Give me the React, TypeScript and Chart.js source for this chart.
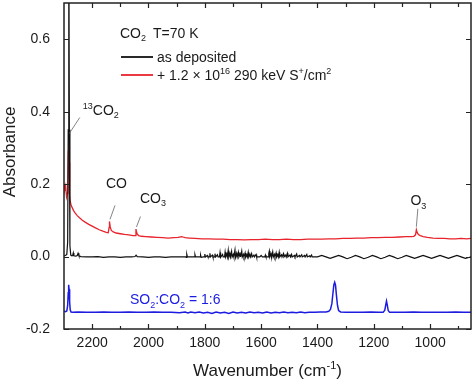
import { useEffect, useRef } from 'react';
import { Chart, registerables } from 'chart.js';

Chart.register(...registerables);

const FONT = '"Liberation Sans", Arial, Helvetica, sans-serif';
const TEXT = '#1a1a1a';
const BLACK = '#111111';
const RED = '#e8232b';
const BLUE = '#1c1ce0';

// Axis ranges (wavenumber axis runs high → low)
const X_MIN = 855;
const X_MAX = 2300;
const Y_MIN = -0.2;
const Y_MAX = 0.7;

const xMajorTicks = [2200, 2000, 1800, 1600, 1400, 1200, 1000];
const xMinorTicks = [2100, 1900, 1700, 1500, 1300, 1100, 900];
const yMajorTicks = [-0.2, 0.0, 0.2, 0.4, 0.6];

// [wavenumber (cm-1), absorbance]
const asDeposited: [number, number][] = [
  [2300, 0.002], [2295, 0.003], [2290, 0.006], [2287, 0.04], [2285, 0.35], [2283, 0.95],
  [2281, 0.35], [2279, 0.03], [2276, 0.004], [2272, 0.002], [2269, 0.003], [2267, 0.01],
  [2265, 0.002], [2258, 0.001], [2253, 0.003], [2250, 0.009], [2247, 0.002], [2240, 0.0],
  [2220, -0.001], [2200, -0.001], [2180, 0.0], [2160, -0.002], [2140, -0.001], [2120, -0.001],
  [2100, -0.002], [2080, -0.001], [2060, -0.001], [2048, 0.0], [2044, 0.004], [2040, 0.0],
  [2020, -0.001], [2000, -0.002], [1980, -0.001], [1960, -0.001], [1940, -0.002], [1920, -0.001],
  [1900, -0.001], [1880, -0.001],
  [1868, -0.001], [1866, -0.002], [1864, 0.006], [1862, -0.001], [1850, -0.001], [1837, -0.001],
  [1835, 0.005], [1833, -0.001], [1820, -0.001], [1817, -0.001], [1815, 0.004], [1813, -0.002],
  [1805, -0.001], [1802, -0.001], [1800, 0.007], [1798, -0.001], [1791, 0.003], [1789, -0.001],
  [1784, -0.001], [1782, 0.009], [1780, -0.001], [1773, 0.004], [1771, -0.002], [1766, -0.001],
  [1764, 0.008], [1762, -0.001], [1755, 0.005], [1753, -0.001], [1748, -0.001], [1746, 0.011],
  [1744, -0.002], [1737, 0.006], [1735, -0.001], [1730, -0.001], [1728, 0.012], [1726, -0.001],
  [1722, 0.007], [1720, -0.001], [1717, 0.017], [1715, -0.002], [1711, 0.008], [1709, -0.001],
  [1705, 0.014], [1703, -0.001], [1699, 0.006], [1697, -0.001], [1693, 0.018], [1691, -0.002],
  [1687, 0.009], [1685, -0.001], [1681, 0.012], [1679, -0.001], [1675, 0.007], [1673, -0.001],
  [1669, 0.015], [1667, -0.001], [1663, 0.006], [1661, -0.001], [1657, 0.01], [1655, -0.002],
  [1651, 0.005], [1649, -0.001], [1646, 0.012], [1644, -0.001], [1640, 0.006], [1638, -0.001],
  [1634, 0.008], [1632, -0.001], [1626, 0.004], [1624, -0.001], [1618, 0.006], [1616, -0.001],
  [1605, -0.001], [1600, 0.003], [1596, -0.001], [1587, -0.001], [1585, 0.004], [1583, -0.001],
  [1575, -0.001], [1573, 0.008], [1571, 0.015], [1569, -0.001], [1565, 0.007], [1563, -0.001],
  [1559, 0.013], [1557, -0.001], [1553, 0.006], [1551, -0.001], [1547, 0.01], [1545, -0.001],
  [1541, 0.005], [1539, -0.001], [1536, 0.012], [1534, -0.001], [1528, 0.005], [1526, -0.001],
  [1521, 0.008], [1519, -0.001], [1513, 0.004], [1511, -0.001], [1507, 0.009], [1505, -0.001],
  [1498, 0.004], [1496, -0.001], [1492, 0.006], [1490, -0.001], [1482, 0.003], [1480, -0.001],
  [1474, 0.007], [1472, -0.001], [1464, 0.003], [1462, -0.001], [1456, 0.005], [1454, -0.001],
  [1446, 0.003], [1444, -0.001], [1438, 0.006], [1436, -0.001], [1428, 0.002], [1426, -0.001],
  [1421, 0.004], [1419, -0.001], [1410, -0.001],
  [1400, -0.001], [1385, 0.003], [1370, -0.001], [1355, -0.005], [1340, -0.001], [1325, 0.003],
  [1310, -0.001], [1295, -0.006], [1280, -0.002], [1265, 0.003], [1250, -0.001], [1235, -0.006],
  [1220, -0.002], [1205, 0.003], [1190, -0.001], [1175, -0.006], [1160, -0.002], [1145, 0.003],
  [1130, -0.001], [1115, -0.006], [1100, -0.002], [1085, 0.003], [1070, -0.001], [1055, -0.005],
  [1040, -0.001], [1025, 0.003], [1010, -0.001], [995, -0.005], [980, -0.001], [965, 0.003],
  [950, -0.001], [935, -0.005], [920, -0.001], [905, 0.003], [890, -0.001], [875, -0.005],
  [860, -0.002], [855, 0.0],
];

const irradiated: [number, number][] = [
  [2300, 0.2], [2297, 0.185], [2294, 0.195], [2291, 0.165], [2288, 0.175], [2286, 0.21],
  [2284.5, 0.29], [2283, 0.337], [2281.5, 0.26], [2280, 0.17], [2278, 0.152], [2275, 0.143],
  [2271, 0.135], [2266, 0.127], [2260, 0.12], [2253, 0.113], [2245, 0.107], [2235, 0.1],
  [2225, 0.095], [2212, 0.089], [2200, 0.084], [2188, 0.079], [2175, 0.074], [2162, 0.07],
  [2150, 0.067], [2143, 0.066], [2140, 0.08], [2138.5, 0.097], [2136, 0.082], [2132, 0.072],
  [2125, 0.068], [2115, 0.065], [2100, 0.063], [2085, 0.061], [2070, 0.06], [2055, 0.058],
  [2047, 0.058], [2044.5, 0.076], [2043, 0.07], [2040, 0.062], [2035, 0.058], [2025, 0.056],
  [2010, 0.055], [1990, 0.054], [1970, 0.053], [1950, 0.052], [1930, 0.051], [1910, 0.052],
  [1895, 0.053], [1882, 0.055], [1878, 0.054], [1870, 0.052], [1855, 0.051], [1835, 0.05],
  [1810, 0.049], [1785, 0.049], [1760, 0.048], [1735, 0.048], [1710, 0.047], [1685, 0.047],
  [1660, 0.046], [1635, 0.047], [1610, 0.047], [1585, 0.048], [1560, 0.047], [1535, 0.047],
  [1510, 0.048], [1485, 0.047], [1460, 0.047], [1435, 0.048], [1410, 0.048], [1385, 0.048],
  [1360, 0.049], [1335, 0.049], [1310, 0.05], [1285, 0.05], [1260, 0.051], [1235, 0.051],
  [1210, 0.052], [1185, 0.052], [1160, 0.053], [1135, 0.053], [1110, 0.054], [1085, 0.055],
  [1068, 0.055], [1058, 0.056], [1052, 0.06], [1049, 0.074], [1046, 0.066], [1042, 0.061],
  [1035, 0.058], [1025, 0.055], [1010, 0.053], [990, 0.051], [970, 0.05], [950, 0.05],
  [930, 0.049], [910, 0.049], [890, 0.05], [870, 0.049], [855, 0.05],
];

const so2Mixture: [number, number][] = [
  [2300, -0.151], [2295, -0.152], [2290, -0.15], [2287, -0.135], [2285, -0.1], [2283.5, -0.078],
  [2282, -0.09], [2280, -0.125], [2278, -0.147], [2275, -0.153], [2268, -0.154], [2250, -0.153],
  [2220, -0.154], [2190, -0.154], [2160, -0.153], [2130, -0.154], [2100, -0.154], [2070, -0.153],
  [2040, -0.154], [2010, -0.154], [1980, -0.153], [1950, -0.154], [1920, -0.154], [1890, -0.155],
  [1870, -0.153], [1860, -0.156], [1850, -0.153], [1835, -0.155], [1820, -0.153], [1805, -0.156],
  [1790, -0.154], [1775, -0.157], [1760, -0.153], [1745, -0.156], [1730, -0.154], [1715, -0.157],
  [1700, -0.153], [1685, -0.156], [1670, -0.154], [1655, -0.156], [1640, -0.153], [1625, -0.155],
  [1610, -0.154], [1595, -0.156], [1580, -0.153], [1565, -0.156], [1550, -0.154], [1535, -0.155],
  [1520, -0.153], [1505, -0.155], [1490, -0.154], [1475, -0.155], [1460, -0.153], [1445, -0.155],
  [1430, -0.154], [1410, -0.154], [1390, -0.153], [1370, -0.153], [1360, -0.151], [1354, -0.146],
  [1349, -0.13], [1345, -0.1], [1342, -0.078], [1339, -0.071], [1336, -0.079], [1333, -0.105],
  [1329, -0.135], [1325, -0.149], [1318, -0.153], [1300, -0.154], [1270, -0.154], [1240, -0.154],
  [1210, -0.153], [1185, -0.154], [1167, -0.154], [1161, -0.148], [1158, -0.135], [1155, -0.123],
  [1152, -0.135], [1149, -0.149], [1144, -0.154], [1120, -0.154], [1090, -0.154], [1060, -0.153],
  [1030, -0.154], [1000, -0.154], [970, -0.154], [940, -0.154], [910, -0.153], [880, -0.154],
  [855, -0.154],
];

type Seg = { t: string; k?: 'sub' | 'sup' };

// Peak labels: anchored at a peak (wavenumber, absorbance), leader line and label offsets in px
type PeakLabel = {
  wn: number; abs: number;
  from: [number, number]; to: [number, number];
  text: Seg[]; at: [number, number]; align: 'left' | 'center';
};

const peakLabels: PeakLabel[] = [
  { wn: 2283, abs: 0.337, from: [0.5, -1], to: [11, -17], text: [{ t: '13', k: 'sup' }, { t: 'CO' }, { t: '2', k: 'sub' }], at: [14, -25], align: 'left' },
  { wn: 2138.5, abs: 0.097, from: [0.5, -2], to: [5.5, -16], text: [{ t: 'CO' }], at: [7, -38], align: 'center' },
  { wn: 2044.5, abs: 0.076, from: [0.5, -2], to: [4.5, -12.5], text: [{ t: 'CO' }, { t: '3', k: 'sub' }], at: [4, -31], align: 'left' },
  { wn: 1049, abs: 0.074, from: [0, -3], to: [1.5, -21], text: [{ t: 'O' }, { t: '3', k: 'sub' }], at: [2, -29.5], align: 'center' },
];

const legendHeader: Seg[] = [{ t: 'CO' }, { t: '2', k: 'sub' }];
const legendTemp = 'T=70 K';
const legendBlack: Seg[] = [{ t: 'as deposited' }];
const legendRed: Seg[] = [
  { t: '+ 1.2 \u00d7 10' }, { t: '16', k: 'sup' }, { t: ' 290 keV S' }, { t: '+', k: 'sup' },
  { t: '/cm' }, { t: '2', k: 'sup' },
];
const mixtureLabel: Seg[] = [{ t: 'SO' }, { t: '2', k: 'sub' }, { t: ':CO' }, { t: '2', k: 'sub' }, { t: ' = 1:6' }];
const xTitle: Seg[] = [{ t: 'Wavenumber (cm' }, { t: '-1', k: 'sup' }, { t: ')' }];
const yTitle: Seg[] = [{ t: 'Absorbance' }];

function segFont(size: number, k?: string) {
  return `${k ? Math.round(size * 0.66) : size}px ${FONT}`;
}

function richWidth(ctx: CanvasRenderingContext2D, segs: Seg[], size: number) {
  let w = 0;
  for (const s of segs) {
    ctx.font = segFont(size, s.k);
    w += ctx.measureText(s.t).width;
  }
  return w;
}

function drawRich(
  ctx: CanvasRenderingContext2D, segs: Seg[], x: number, yMid: number, size: number,
  color: string, align: 'left' | 'center' = 'left',
) {
  const total = richWidth(ctx, segs, size);
  let cx = align === 'center' ? x - total / 2 : x;
  const base = yMid + size * 0.36;
  ctx.fillStyle = color;
  ctx.textAlign = 'left';
  ctx.textBaseline = 'alphabetic';
  for (const s of segs) {
    ctx.font = segFont(size, s.k);
    const dy = s.k === 'sub' ? size * 0.24 : s.k === 'sup' ? -size * 0.42 : 0;
    ctx.fillText(s.t, cx, base + dy);
    cx += ctx.measureText(s.t).width;
  }
}

const decorations = {
  id: 'spectrumDecorations',
  afterDatasetsDraw(chart: Chart) {
    const ctx = chart.ctx;
    const { left, right, top, bottom } = chart.chartArea;
    const xs = chart.scales.x;
    const ys = chart.scales.y;
    ctx.save();

    // frame
    ctx.strokeStyle = '#222';
    ctx.lineWidth = 1.5;
    ctx.strokeRect(left, top, right - left, bottom - top);

    // inward tick marks on all four sides
    ctx.lineWidth = 1.2;
    ctx.beginPath();
    for (const v of xMajorTicks) {
      const px = Math.round(xs.getPixelForValue(v)) + 0.5;
      ctx.moveTo(px, bottom); ctx.lineTo(px, bottom - 5);
      ctx.moveTo(px, top); ctx.lineTo(px, top + 5);
    }
    for (const v of xMinorTicks) {
      const px = Math.round(xs.getPixelForValue(v)) + 0.5;
      ctx.moveTo(px, bottom); ctx.lineTo(px, bottom - 3);
      ctx.moveTo(px, top); ctx.lineTo(px, top + 4);
    }
    for (const v of yMajorTicks) {
      const py = Math.round(ys.getPixelForValue(v)) + 0.5;
      ctx.moveTo(left, py); ctx.lineTo(left + 5, py);
      ctx.moveTo(right, py); ctx.lineTo(right - 5, py);
    }
    ctx.stroke();

    // peak assignments
    for (const p of peakLabels) {
      const ax = xs.getPixelForValue(p.wn);
      const ay = ys.getPixelForValue(p.abs);
      ctx.strokeStyle = '#666';
      ctx.lineWidth = 0.8;
      ctx.beginPath();
      ctx.moveTo(ax + p.from[0], ay + p.from[1]);
      ctx.lineTo(ax + p.to[0], ay + p.to[1]);
      ctx.stroke();
      drawRich(ctx, p.text, ax + p.at[0], ay + p.at[1], 14, TEXT, p.align);
    }

    // legend block
    const lx = left + 57;
    drawRich(ctx, legendHeader, lx - 1, top + 30, 14, TEXT);
    drawRich(ctx, [{ t: legendTemp }], lx + 32, top + 30, 14, TEXT);
    ctx.lineWidth = 1.8;
    ctx.strokeStyle = BLACK;
    ctx.beginPath(); ctx.moveTo(lx, top + 54); ctx.lineTo(lx + 32, top + 54); ctx.stroke();
    ctx.strokeStyle = RED;
    ctx.beginPath(); ctx.moveTo(lx, top + 72); ctx.lineTo(lx + 32, top + 72); ctx.stroke();
    drawRich(ctx, legendBlack, lx + 36, top + 54, 14, TEXT);
    drawRich(ctx, legendRed, lx + 36, top + 72, 14, TEXT);

    // sample label for the lower trace
    drawRich(ctx, mixtureLabel, left + 66, ys.getPixelForValue(-0.118), 14, BLUE);

    // axis titles
    drawRich(ctx, xTitle, (left + right) / 2, bottom + 41, 17, TEXT, 'center');
    ctx.translate(9, (top + bottom) / 2 - 14);
    ctx.rotate(-Math.PI / 2);
    drawRich(ctx, yTitle, 0, 0, 17, TEXT, 'center');

    ctx.restore();
  },
};

const toPoints = (arr: [number, number][]) => arr.map(([x, y]) => ({ x, y }));

export default function App() {
  const canvasRef = useRef<HTMLCanvasElement | null>(null);

  useEffect(() => {
    const canvas = canvasRef.current;
    if (!canvas) return;
    const chart = new Chart(canvas, {
      type: 'line',
      data: {
        datasets: [
          { label: 'as deposited', data: toPoints(asDeposited), borderColor: BLACK, borderWidth: 1.2, pointRadius: 0, tension: 0 },
          { label: 'irradiated', data: toPoints(irradiated), borderColor: RED, borderWidth: 1.3, pointRadius: 0, tension: 0 },
          { label: 'SO2:CO2 = 1:6', data: toPoints(so2Mixture), borderColor: BLUE, borderWidth: 1.5, pointRadius: 0, tension: 0 },
        ],
      },
      options: {
        responsive: false,
        animation: false,
        devicePixelRatio: 1,
        layout: { padding: { left: 0, top: 3, right: 3, bottom: 0 } },
        plugins: { legend: { display: false }, tooltip: { enabled: false }, title: { display: false } },
        events: [],
        scales: {
          x: {
            type: 'linear',
            reverse: true,
            min: X_MIN,
            max: X_MAX,
            grid: { display: false, drawTicks: false },
            border: { display: false },
            afterBuildTicks: (s: any) => { s.ticks = xMajorTicks.map((v) => ({ value: v })); },
            afterFit: (s: any) => { s.height = 53; s.paddingLeft = 0; s.paddingRight = 0; },
            ticks: {
              autoSkip: false,
              maxRotation: 0,
              padding: 6,
              color: TEXT,
              font: { family: FONT, size: 14 },
              callback: (v: any) => String(v),
            },
          },
          y: {
            type: 'linear',
            min: Y_MIN,
            max: Y_MAX,
            grid: { display: false, drawTicks: false },
            border: { display: false },
            afterBuildTicks: (s: any) => { s.ticks = yMajorTicks.map((v) => ({ value: v })); },
            afterFit: (s: any) => { s.width = 64; s.paddingTop = 0; s.paddingBottom = 0; },
            ticks: {
              padding: 14,
              color: TEXT,
              font: { family: FONT, size: 14 },
              callback: (v: any) => Number(v).toFixed(1),
            },
          },
        },
      },
      plugins: [decorations],
    } as any);
    return () => chart.destroy();
  }, []);

  return (
    <div style={{ position: 'absolute', left: 0, top: 0, width: 474, height: 382, background: '#fff' }}>
      <canvas ref={canvasRef} width={474} height={382} style={{ display: 'block' }} />
    </div>
  );
}
